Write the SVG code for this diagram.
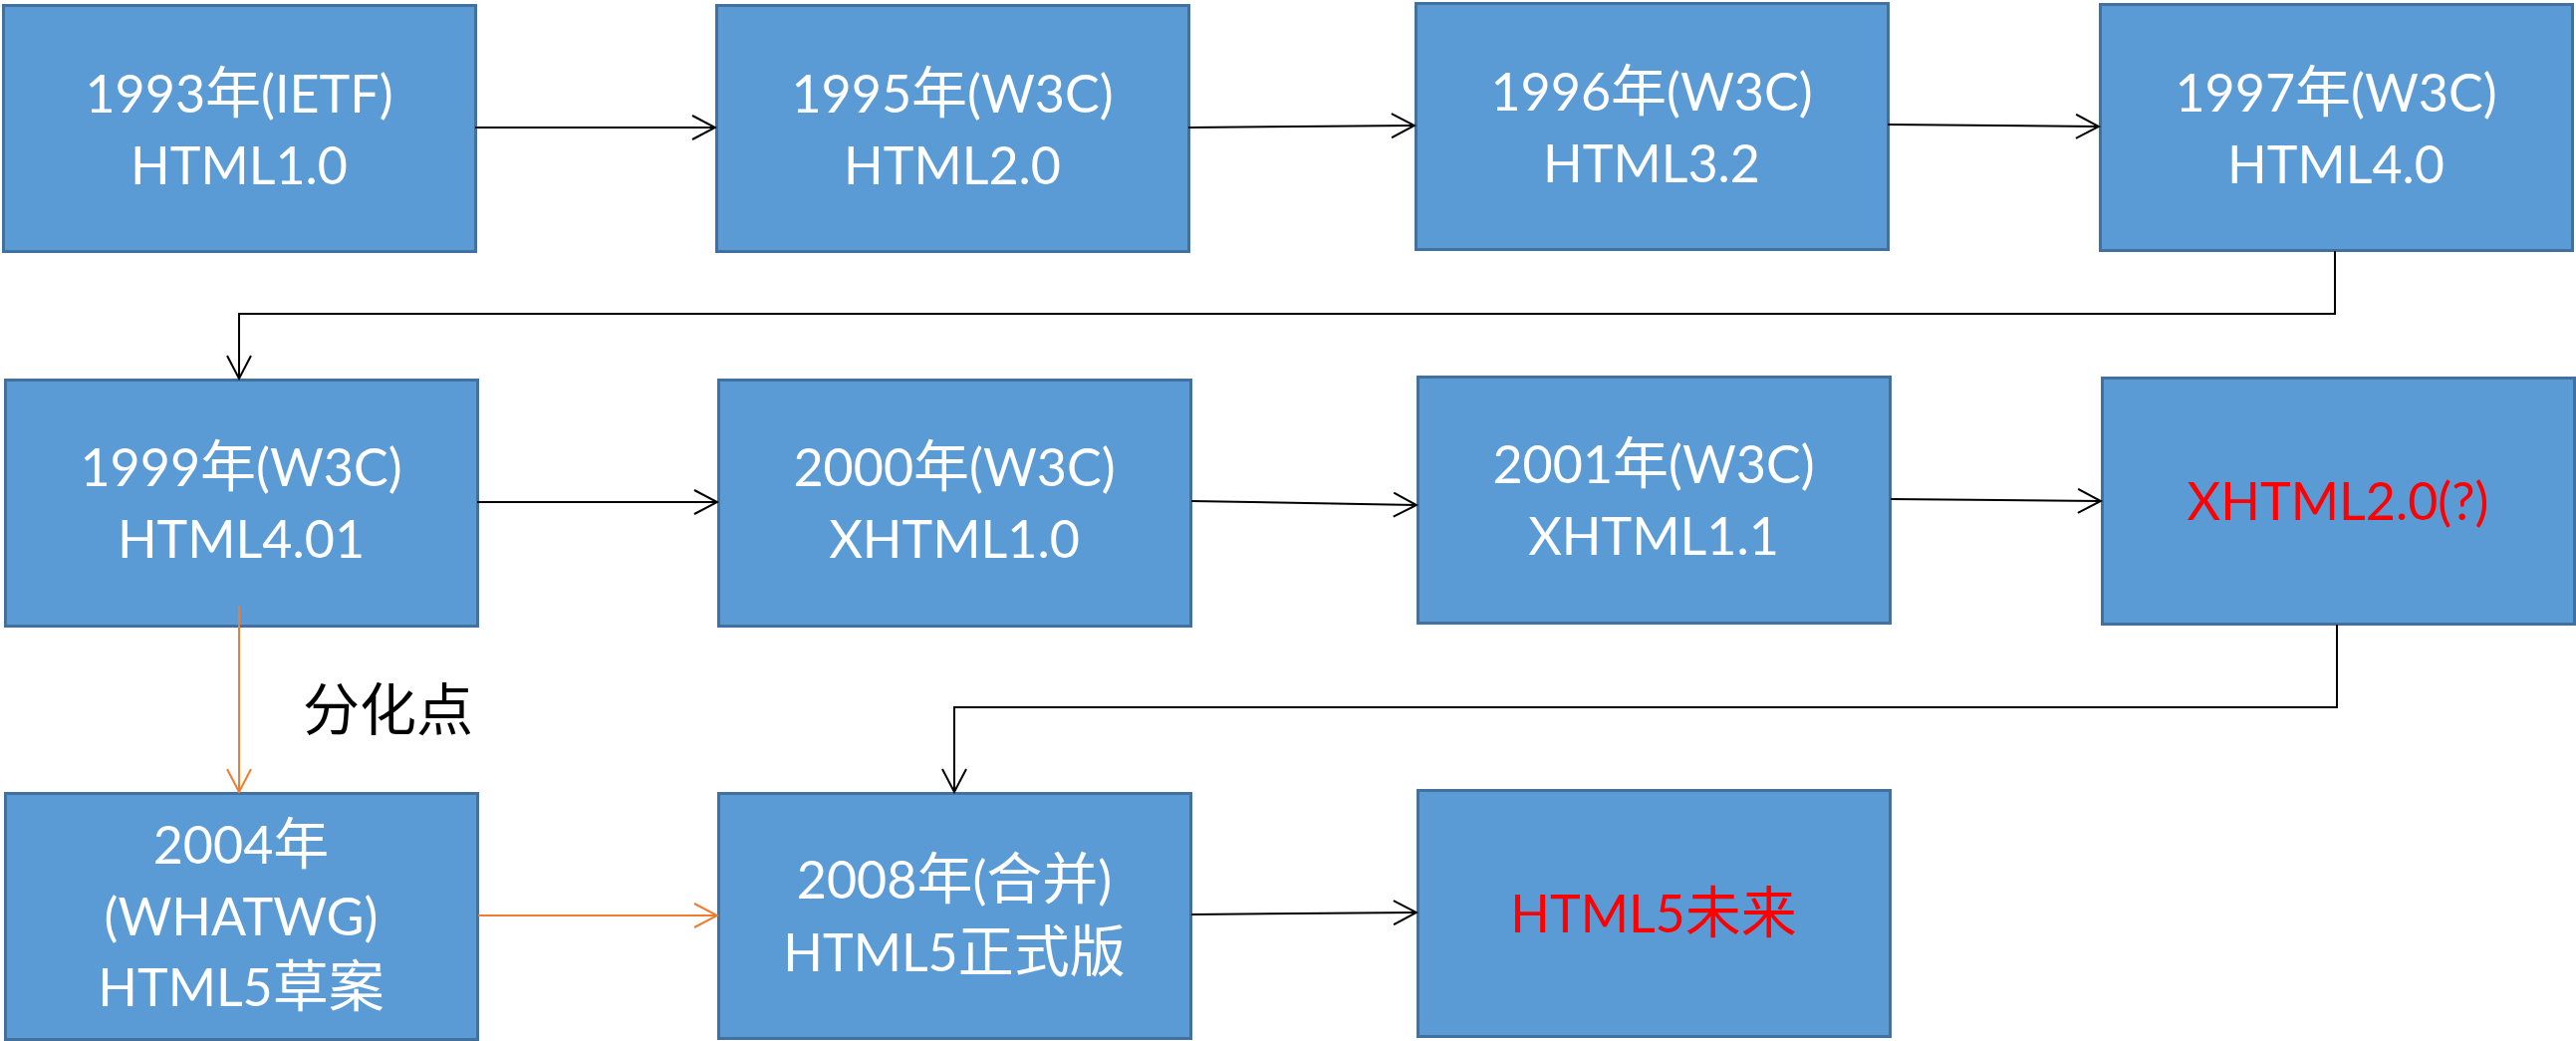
<svg xmlns="http://www.w3.org/2000/svg" width="2586" height="1045" viewBox="0 0 2586 1045">
<style>
.box{fill:#5B9BD5;stroke:#41719C;stroke-width:3}
.t{font-family:Lato,"Noto Sans CJK SC",sans-serif;font-size:52px;fill:#FFFFFF;text-anchor:middle}
.red{fill:#FF0000}
.cj{font-family:"Noto Sans CJK SC",sans-serif;font-size:56px}
.c{fill:none;stroke:#000000;stroke-width:2}
.o{fill:none;stroke:#ED7D31;stroke-width:2}
.lbl{font-family:"Noto Sans CJK SC",sans-serif;font-size:57px;fill:#000000}
</style>
<defs>
<marker id="ah" viewBox="0 0 26 26" refX="24" refY="13" markerWidth="26" markerHeight="26" markerUnits="userSpaceOnUse" orient="auto">
<path d="M1,1 L24,13 L1,25" fill="none" stroke="#000000" stroke-width="2"/>
</marker>
<marker id="aho" viewBox="0 0 26 26" refX="24" refY="13" markerWidth="26" markerHeight="26" markerUnits="userSpaceOnUse" orient="auto">
<path d="M1,1 L24,13 L1,25" fill="none" stroke="#ED7D31" stroke-width="2"/>
</marker>
</defs>
<rect width="2586" height="1045" fill="#FFFFFF"/>

<g id="n1993">
<rect class="box" x="3.5" y="5.5" width="474" height="247"/>
<text class="t" x="240" y="113">1993<tspan class="cj">年</tspan>(IETF)</text>
<text class="t" x="240" y="185">HTML1.0</text>
</g>
<g id="n1995">
<rect class="box" x="719.5" y="5.5" width="474" height="247"/>
<text class="t" x="956" y="113">1995<tspan class="cj">年</tspan>(W3C)</text>
<text class="t" x="956" y="185">HTML2.0</text>
</g>
<g id="n1996">
<rect class="box" x="1421.5" y="3.5" width="474" height="247"/>
<text class="t" x="1658" y="111">1996<tspan class="cj">年</tspan>(W3C)</text>
<text class="t" x="1658" y="183">HTML3.2</text>
</g>
<g id="n1997">
<rect class="box" x="2108.5" y="4.5" width="474" height="247"/>
<text class="t" x="2345" y="112">1997<tspan class="cj">年</tspan>(W3C)</text>
<text class="t" x="2345" y="184">HTML4.0</text>
</g>
<g id="n1999">
<rect class="box" x="5.5" y="381.5" width="474" height="247"/>
<text class="t" x="242" y="488">1999<tspan class="cj">年</tspan>(W3C)</text>
<text class="t" x="242" y="560">HTML4.01</text>
</g>
<g id="n2000">
<rect class="box" x="721.5" y="381.5" width="474" height="247"/>
<text class="t" x="958" y="488">2000<tspan class="cj">年</tspan>(W3C)</text>
<text class="t" x="958" y="560">XHTML1.0</text>
</g>
<g id="n2001">
<rect class="box" x="1423.5" y="378.5" width="474" height="247"/>
<text class="t" x="1660" y="485">2001<tspan class="cj">年</tspan>(W3C)</text>
<text class="t" x="1660" y="557">XHTML1.1</text>
</g>
<g id="nXHTML2">
<rect class="box" x="2110.5" y="379.5" width="474" height="247"/>
<text class="t red" x="2347" y="522">XHTML2.0(?)</text>
</g>
<g id="n2004">
<rect class="box" x="5.5" y="796.5" width="474" height="247"/>
<text class="t" x="242" y="867">2004<tspan class="cj">年</tspan></text>
<text class="t" x="242" y="939">(WHATWG)</text>
<text class="t" x="242" y="1010">HTML5<tspan class="cj">草案</tspan></text>
</g>
<g id="n2008">
<rect class="box" x="721.5" y="796.5" width="474" height="246"/>
<text class="t" x="958" y="902">2008<tspan class="cj">年</tspan>(<tspan class="cj">合并</tspan>)</text>
<text class="t" x="958" y="975">HTML5<tspan class="cj">正式版</tspan></text>
</g>
<g id="nFuture">
<rect class="box" x="1423.5" y="793.5" width="474" height="247"/>
<text class="t red" x="1660" y="936">HTML5<tspan class="cj">未来</tspan></text>
</g>

<g id="connectors">
<path class="c" d="M477,128 L718,128" marker-end="url(#ah)"/>
<path class="c" d="M1193,128 L1420,126" marker-end="url(#ah)"/>
<path class="c" d="M1895,125 L2107,127" marker-end="url(#ah)"/>
<path class="c" d="M2344,252 L2344,315 L240,315 L240,380" marker-end="url(#ah)"/>
<path class="c" d="M479,504 L720,504" marker-end="url(#ah)"/>
<path class="c" d="M1196,503 L1422,507" marker-end="url(#ah)"/>
<path class="c" d="M1898,501 L2109,503" marker-end="url(#ah)"/>
<path class="c" d="M2346,627 L2346,710 L958,710 L958,795" marker-end="url(#ah)"/>
<path class="c" d="M1196,918 L1422,916" marker-end="url(#ah)"/>
<path class="o" d="M240,609 L240,795" marker-end="url(#aho)"/>
<path class="o" d="M480,919 L720,919" marker-end="url(#aho)"/>
</g>
<text id="label-fenhua" class="lbl" x="304" y="733">分化点</text>
</svg>
